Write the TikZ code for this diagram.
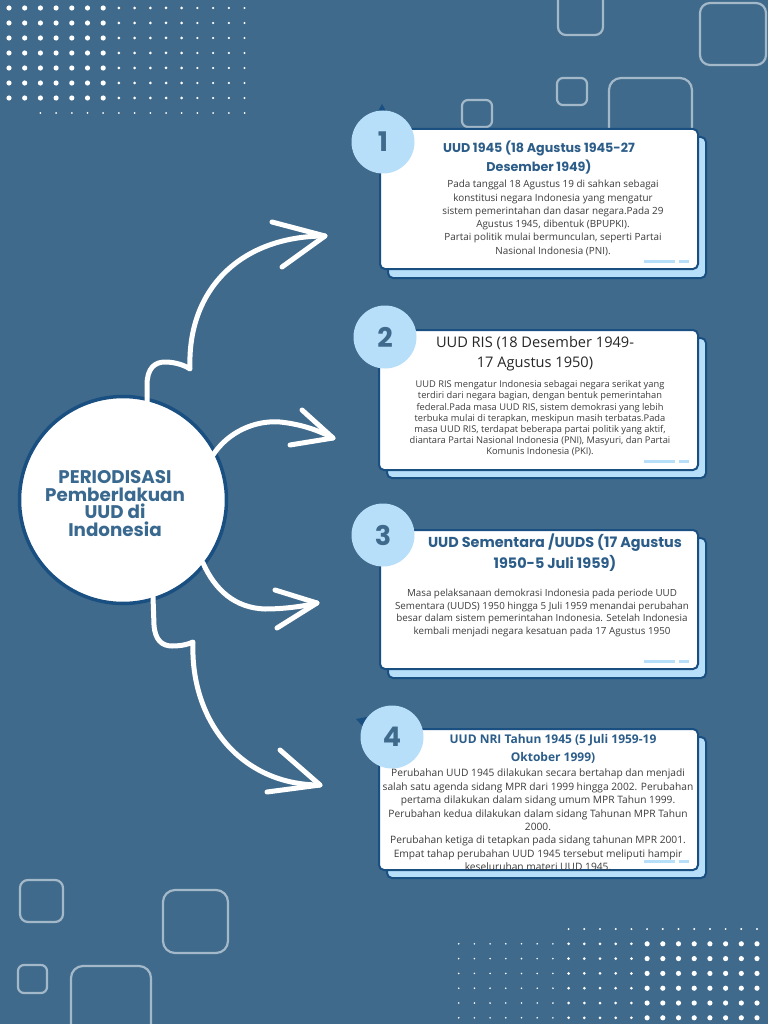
\documentclass[tikz,border=0pt]{standalone}
\usepackage{fontspec}
\setmainfont{Open Sans}
\newfontfamily\pop{Poppins}
\definecolor{bg}{HTML}{3F6A8B}
\definecolor{dark}{HTML}{1A4F82}
\definecolor{light}{HTML}{B7DFFA}
\definecolor{sq}{HTML}{A3B8C8}
\definecolor{ttl}{HTML}{2C5D89}
\definecolor{bodyc}{HTML}{3C3C3C}
\definecolor{ctext}{HTML}{3A6990}
\tikzset{
  sqbox/.style={draw=sq, line width=2.2pt},
  backbox/.style={fill=light, draw=dark, line width=2pt, rounded corners=5pt},
  frontbox/.style={fill=white, draw=dark, line width=2pt, rounded corners=5pt},
  numcirc/.style={circle, fill=light, minimum size=63pt, inner sep=0pt, text=bg, font=\pop\bfseries\fontsize{27}{27}\selectfont},
  bodytext/.style={inner sep=0pt, align=center, text=bodyc},
  titletext/.style={inner sep=0pt, align=center, text=ttl},
  arrowline/.style={draw=white, line width=5pt, line cap=round, line join=round},
  dashdeco/.style={draw=light, line width=3pt},
}
\begin{document}
\begin{tikzpicture}[x=1pt,y=-1pt]
\useasboundingbox (0,0) rectangle (768,1024);
\fill[bg] (0,0) rectangle (768,1024);

% dots top-left
\foreach \i in {0,...,15} {
  \foreach \j in {0,...,6} {
    \pgfmathsetmacro\r{\i<7 ? 2.6 : (\i<12 ? 1.5 : 1.2)}
    \fill[white] (9+15.7*\i, 8+15*\j) circle (\r pt);
  }
}
\foreach \i in {2,...,15} { \fill[white] (9+15.7*\i, 113) circle (1.0pt); }

% dots bottom-right
\foreach \k in {0,...,12} { \fill[white] (757-15.7*\k, 929) circle (1.1pt); }
\foreach \k in {0,...,19} {
  \foreach \j in {1,...,6} {
    \pgfmathsetmacro\r{\k<8 ? 2.6 : (\k<13 ? 1.5 : 0.9)}
    \fill[white] (757-15.7*\k, 929+14.8*\j) circle (\r pt);
  }
}

% decorative squares
\draw[sqbox, rounded corners=8pt] (558,-10) rectangle (603,35);
\draw[sqbox, rounded corners=10pt] (700,3) rectangle (766,65);
\draw[sqbox, rounded corners=6pt] (557,78) rectangle (587,105);
\draw[sqbox, rounded corners=12pt] (609,78) rectangle (692,170);
\draw[sqbox, rounded corners=6pt] (462,100) rectangle (492,127);
\draw[sqbox, rounded corners=8pt] (20,880) rectangle (63,922);
\draw[sqbox, rounded corners=12pt] (163,890) rectangle (228,953);
\draw[sqbox, rounded corners=6pt] (18,965) rectangle (47,993);
\draw[sqbox, rounded corners=12pt] (71,966) rectangle (151,1045);

% small dark triangles
\fill[dark] (377,113) -- (382,104) -- (387,113) -- cycle;
\fill[dark] (356,719) -- (372,716) -- (368,732) -- cycle;

% ---------- box 1
\draw[backbox] (388,137) rectangle (706,278);
\draw[frontbox] (380,129) rectangle (698,269);
\node[numcirc] (n1) at (383,142) {1};
\node[titletext, font=\pop\bfseries\fontsize{12.7}{19}\selectfont] (t1) at (539,157.5) {UUD 1945 (18 Agustus 1945-27\\Desember 1949)};
\node[bodytext, font=\fontsize{9.9}{13.3}\selectfont] (d1) at (553,218) {Pada tanggal 18 Agustus 19 di sahkan sebagai\\konstitusi negara Indonesia yang mengatur\\sistem pemerintahan dan dasar negara.Pada 29\\Agustus 1945, dibentuk (BPUPKI).\\Partai politik mulai bermunculan, seperti Partai\\Nasional Indonesia (PNI).};
\draw[dashdeco] (644,261) -- (675,261) (679,261) -- (689,261);

% ---------- box 2
\draw[backbox] (387,338) rectangle (706,478);
\draw[frontbox] (379,330) rectangle (698,470);
\node[numcirc] (n2) at (385,337) {2};
\node[inner sep=0pt, align=center, text=black!85, font=\fontsize{14.6}{20}\selectfont] (t2) at (535,354) {UUD RIS (18 Desember 1949-\\17 Agustus 1950)};
\node[bodytext, font=\fontsize{9.3}{11.2}\selectfont] (d2) at (540,418.5) {UUD RIS mengatur Indonesia sebagai negara serikat yang\\terdiri dari negara bagian, dengan bentuk pemerintahan\\federal.Pada masa UUD RIS, sistem demokrasi yang lebih\\terbuka mulai di terapkan, meskipun masih terbatas.Pada\\masa UUD RIS, terdapat beberapa partai politik yang aktif,\\diantara Partai Nasional Indonesia (PNI), Masyuri, dan Partai\\Komunis Indonesia (PKI).};
\draw[dashdeco] (644,461) -- (675,461) (679,461) -- (689,461);

% ---------- box 3
\draw[backbox] (388,538) rectangle (706,678);
\draw[frontbox] (380,530) rectangle (698,669);
\node[numcirc] (n3) at (383,535) {3};
\node[titletext, font=\pop\bfseries\fontsize{14.4}{21}\selectfont] (t3) at (555,552.5) {UUD Sementara /UUDS (17 Agustus\\1950-5 Juli 1959)};
\node[bodytext, font=\fontsize{9.8}{12.8}\selectfont] (d3) at (542,613) {Masa pelaksanaan demokrasi Indonesia pada periode UUD\\Sementara (UUDS) 1950 hingga 5 Juli 1959 menandai perubahan\\besar dalam sistem pemerintahan Indonesia. Setelah Indonesia\\kembali menjadi negara kesatuan pada 17 Agustus 1950};
\draw[dashdeco] (644,661) -- (675,661) (679,661) -- (689,661);

% ---------- box 4
\draw[backbox] (387,737) rectangle (706,878);
\draw[frontbox] (379,729) rectangle (698,870);
\node[numcirc] (n4) at (392,737) {4};
\node[titletext, font=\bfseries\fontsize{12}{18}\selectfont] (t4) at (553,749) {UUD NRI Tahun 1945 (5 Juli 1959-19\\Oktober 1999)};
\node[bodytext, font=\fontsize{10.2}{13.4}\selectfont] (d4) at (538,820) {Perubahan UUD 1945 dilakukan secara bertahap dan menjadi\\salah satu agenda sidang MPR dari 1999 hingga 2002. Perubahan\\pertama dilakukan dalam sidang umum MPR Tahun 1999.\\Perubahan kedua dilakukan dalam sidang Tahunan MPR Tahun\\2000.\\Perubahan ketiga di tetapkan pada sidang tahunan MPR 2001.\\Empat tahap perubahan UUD 1945 tersebut meliputi hampir\\keseluruhan materi UUD 1945.};
\draw[dashdeco] (644,861) -- (675,861) (679,861) -- (689,861);

% ---------- central circle
\node[circle, fill=white, draw=dark, line width=3.5pt, minimum size=207pt, inner sep=0pt] (c) at (123,500) {};
\node[inner sep=0pt, align=center, text=ctext, font=\pop\bfseries\fontsize{18.3}{17.7}\selectfont] (ct) at (115,503.5) {PERIODISASI\\Pemberlakuan\\UUD di\\Indonesia};

% ---------- arrows
\coordinate (a1s) at (147,404);
\coordinate (a1t) at (325,236);
\coordinate (a2s) at (213,455);
\coordinate (a2t) at (333,438);
\coordinate (a3s) at (203,563);
\coordinate (a3t) at (317,603);
\coordinate (a4s) at (153,597);
\coordinate (a4t) at (320,785);

\draw[arrowline] (a1s) -- (147,385) .. controls (147,368) and (155,362) .. (165,362) .. controls (176,362) and (186,366) .. (190,369) .. controls (187,290) and (240,236) .. (a1t);
\draw[arrowline] (272,222) -- (a1t) -- (282,267);

\draw[arrowline] (a2s) .. controls (228,432) and (255,420) .. (280,422) .. controls (300,424) and (318,430) .. (a2t);
\draw[arrowline] (302,410) -- (a2t) -- (290,445);

\draw[arrowline] (a3s) .. controls (215,590) and (235,608) .. (265,609) .. controls (285,609) and (305,606) .. (a3t);
\draw[arrowline] (275,590) -- (a3t) -- (277,628);

\draw[arrowline] (a4s) -- (154,625) .. controls (155,640) and (162,646) .. (172,646) .. controls (182,646) and (189,644) .. (193,642) .. controls (190,720) and (240,785) .. (a4t);
\draw[arrowline] (280,750) -- (a4t) -- (267,792);
\end{tikzpicture}
\end{document}
